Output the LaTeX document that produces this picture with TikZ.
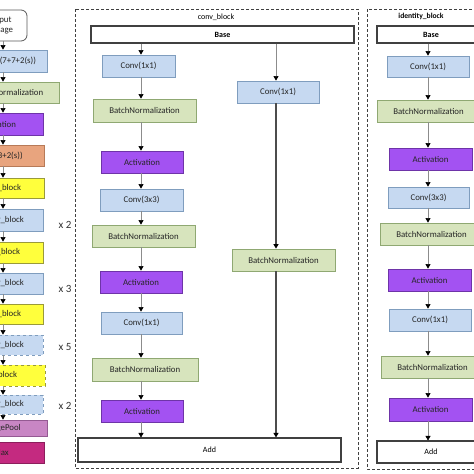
\documentclass[tikz,border=0pt]{standalone}
\usepackage{fontspec}
\setmainfont{Carlito}
\usetikzlibrary{arrows.meta}

\definecolor{convfill}{HTML}{C6D9F1}
\definecolor{convline}{HTML}{7F9DBE}
\definecolor{bnfill}{HTML}{D7E4BD}
\definecolor{bnline}{HTML}{8FA872}
\definecolor{actfill}{HTML}{A352F2}
\definecolor{actline}{HTML}{6E34A8}
\definecolor{poolfill}{HTML}{E8A47E}
\definecolor{poolline}{HTML}{B77A58}
\definecolor{cbfill}{HTML}{FFFF3C}
\definecolor{cbline}{HTML}{9A9A3A}
\definecolor{avgfill}{HTML}{C886C4}
\definecolor{avgline}{HTML}{945A92}
\definecolor{smfill}{HTML}{C42A80}
\definecolor{smline}{HTML}{8C1E5C}

\tikzset{
  blk/.style={draw, line width=0.8pt, inner sep=0pt, font=\fontsize{8.8}{10.5}\selectfont, text=black!85},
  convbox/.style={blk, fill=convfill, draw=convline},
  bnbox/.style={blk, fill=bnfill, draw=bnline},
  actbox/.style={blk, fill=actfill, draw=actline},
  poolbox/.style={blk, fill=poolfill, draw=poolline},
  cbbox/.style={blk, fill=cbfill, draw=cbline},
  idbox/.style={blk, fill=convfill, draw=convline},
  avgbox/.style={blk, fill=avgfill, draw=avgline},
  smbox/.style={blk, fill=smfill, draw=smline},
  plainbox/.style={draw=black!75, line width=1.1pt, fill=white, inner sep=0pt, font=\fontsize{8}{9}\selectfont},
  frame/.style={draw=black!75, dashed, dash pattern=on 3pt off 2pt, line width=0.9pt},
  arr/.style={draw=black!45, line width=0.5pt, -{Triangle[width=5pt,length=4.5pt,color=black]}},
  thickarr/.style={draw=black!70, line width=1.4pt, -{Triangle[width=5pt,length=4.5pt,color=black]}},
  times/.style={font=\fontsize{11}{12}\selectfont, text=black!80}
}

\begin{document}
\begin{tikzpicture}[x=1pt,y=-1pt]
\useasboundingbox (0,0) rectangle (474,474);
\clip (0,0) rectangle (474,474);
\fill[white] (0,0) rectangle (474,474);

% frames
\draw[frame] (75,9) rectangle (358,468);
\draw[frame] (367,9) rectangle (492,469);
\node[font=\fontsize{8}{9}\selectfont] (ctitle) at (216,17) {conv\_block};
\node[font=\bfseries\fontsize{7.6}{9}\selectfont] (ititle) at (421,16.5) {identity\_block};

% left column
\begin{scope}[every node/.style={minimum height=21pt}]
    \node[blk, draw=black!65, fill=white, rounded corners=6pt, minimum width=50pt, minimum height=31pt, align=center] (in) at (2,25.5) {Input\\Image};
    \node[convbox, minimum width=76pt, minimum height=22pt] (c7) at (9,61) {Conv(7+7+2(s))};
    \node[bnbox, minimum width=102pt] (bn0) at (8,92.5) {BatchNormalization};
    \node[actbox, minimum width=90pt, minimum height=22pt] (a0) at (-2,124) {Activation};
    \node[poolbox, minimum width=110pt] (mp) at (-11,155.5) {MaxPool(3+3+2(s))};
    \node[cbbox, minimum width=86pt, minimum height=20pt] (cb1) at (1,188) {conv\_block};
    \node[idbox, minimum width=89pt, minimum height=22pt] (ib1) at (-1.5,220) {identity\_block};
    \node[cbbox, minimum width=86pt] (cb2) at (0,252.5) {conv\_block};
    \node[idbox, minimum width=89pt] (ib2) at (-1.5,283.5) {identity\_block};
    \node[cbbox, minimum width=84pt, minimum height=20pt] (cb3) at (1,314) {conv\_block};
    \node[idbox, dashed, minimum width=89pt, minimum height=20pt] (ib3) at (-1.5,345) {identity\_block};
    \node[cbbox, dashed, minimum width=96pt] (cb4) at (-3,375.5) {conv\_block};
    \node[idbox, dashed, minimum width=89pt, minimum height=19pt] (ib4) at (-1.5,404.5) {identity\_block};
    \node[avgbox, minimum width=97pt, minimum height=16pt] (ap) at (-1.5,428) {AveragePool};
    \node[smbox, minimum width=100pt] (sm) at (-6,452.5) {SoftMax};
\end{scope}
\coordinate (lc) at (3,0);
\foreach \a/\b in {in/c7, c7/bn0, bn0/a0, a0/mp, mp/cb1, cb1/ib1, ib1/cb2, cb2/ib2, ib2/cb3, cb3/ib3, ib3/cb4, cb4/ib4, ib4/ap}
    \draw[arr] (\a.south -| lc) -- (\b.north -| lc);
\node[times] (x1) at (65,225) {x 2};
\node[times] (x2) at (65,289) {x 3};
\node[times] (x3) at (65,347) {x 5};
\node[times] (x4) at (65,406) {x 2};

% conv_block
\node[plainbox, font=\bfseries\fontsize{8}{9}\selectfont, minimum width=263pt, minimum height=17pt] (base) at (222.5,34.5) {Base};
\node[convbox, minimum width=73pt, minimum height=22pt] (c1) at (138.5,66) {Conv(1x1)};
\node[bnbox, minimum width=103pt, minimum height=23pt] (bn1) at (144.5,110.5) {BatchNormalization};
\node[actbox, minimum width=82pt, minimum height=22pt] (a1) at (142,162) {Activation};
\node[convbox, minimum width=83pt, minimum height=22pt] (c2) at (141.5,200) {Conv(3x3)};
\node[bnbox, minimum width=103pt, minimum height=22pt] (bn2) at (143.5,236) {BatchNormalization};
\node[actbox, minimum width=82pt, minimum height=22pt] (a2) at (141,282) {Activation};
\node[convbox, minimum width=81pt, minimum height=22pt] (c3) at (141.5,323) {Conv(1x1)};
\node[bnbox, minimum width=106pt, minimum height=23pt] (bn3) at (145,369.5) {BatchNormalization};
\node[actbox, minimum width=82pt, minimum height=22pt] (a3) at (142,411) {Activation};
\node[plainbox, minimum width=263pt, minimum height=24pt] (add) at (209.5,450) {Add};
\node[convbox, minimum width=82pt, minimum height=22pt] (rc) at (278,92) {Conv(1x1)};
\node[bnbox, minimum width=103pt, minimum height=22pt] (rbn) at (283.5,260) {BatchNormalization};
\coordinate (mx) at (141,0);
\coordinate (rx) at (276,0);
\foreach \a/\b in {base/c1, c1/bn1, bn1/a1, a1/c2, c2/bn2, bn2/a2, a2/c3, c3/bn3, bn3/a3, a3/add}
    \draw[arr] (\a.south -| mx) -- (\b.north -| mx);
\draw[arr] (base.south -| rx) -- (rc.north -| rx);
\draw[thickarr] (rc.south -| rx) -- (rbn.north -| rx);
\draw[thickarr] (rbn.south -| rx) -- (add.north -| rx);

% identity_block
\node[plainbox, font=\bfseries\fontsize{8}{9}\selectfont, minimum width=108pt, minimum height=17pt] (ibase) at (431,34.5) {Base};
\node[convbox, minimum width=82pt, minimum height=21pt] (ic1) at (428,66.5) {Conv(1x1)};
\node[bnbox, minimum width=103pt, minimum height=22pt] (ibn1) at (428.5,111) {BatchNormalization};
\node[actbox, minimum width=83pt, minimum height=22pt] (ia1) at (430.5,159) {Activation};
\node[convbox, minimum width=81pt, minimum height=21pt] (ic2) at (428.5,197.5) {Conv(3x3)};
\node[bnbox, minimum width=103pt, minimum height=22pt] (ibn2) at (431.5,234) {BatchNormalization};
\node[actbox, minimum width=83pt, minimum height=22pt] (ia2) at (429.5,280) {Activation};
\node[convbox, minimum width=82pt, minimum height=22pt] (ic3) at (430,320) {Conv(1x1)};
\node[bnbox, minimum width=103pt, minimum height=22pt] (ibn3) at (432.5,367) {BatchNormalization};
\node[actbox, minimum width=83pt, minimum height=23pt] (ia3) at (430.5,409.5) {Activation};
\node[plainbox, minimum width=108pt, minimum height=22pt] (iadd) at (431,452) {Add};
\coordinate (ix) at (428,0);
\foreach \a/\b in {ibase/ic1, ic1/ibn1, ibn1/ia1, ia1/ic2, ic2/ibn2, ibn2/ia2, ia2/ic3, ic3/ibn3, ibn3/ia3, ia3/iadd}
    \draw[arr] (\a.south -| ix) -- (\b.north -| ix);
\end{tikzpicture}
\end{document}
